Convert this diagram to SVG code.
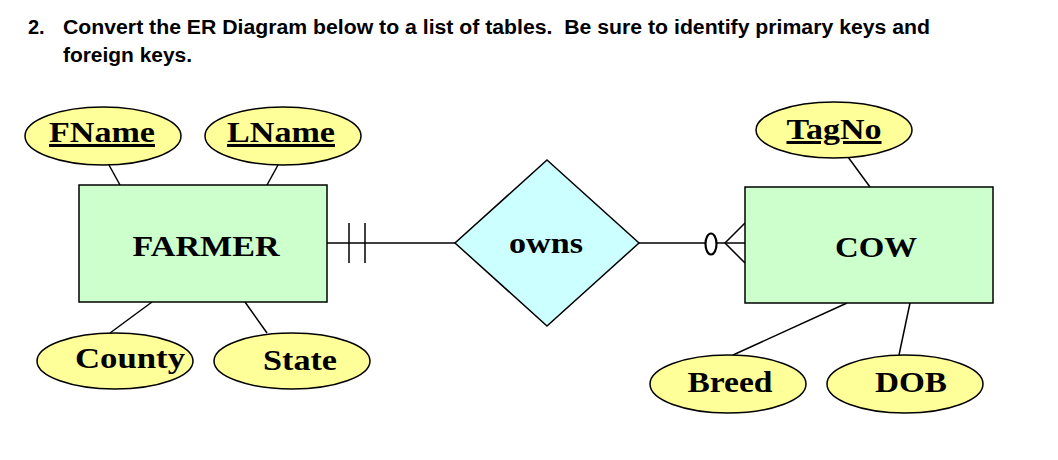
<svg xmlns="http://www.w3.org/2000/svg" width="1058" height="460" viewBox="0 0 1058 460">
<style>
.title{font-family:"Liberation Sans","DejaVu Sans",sans-serif;font-weight:bold;font-size:20px;fill:#000}
.attr{fill:#FFFF99;stroke:#000;stroke-width:1.5}
.ent{fill:#CCFFCC;stroke:#000;stroke-width:1.5}
.rel{fill:#CCFFFF;stroke:#000;stroke-width:1.5}
.lbl{font-family:"Liberation Serif","Times New Roman",serif;font-weight:bold;font-size:30px;fill:#000}
.key{text-decoration:underline}
.conn line,.conn path{stroke:#000;stroke-width:1.5;fill:none}
</style>
<rect width="1058" height="460" fill="#fff"/>
<g id="title">
<text class="title" x="28" y="34">2.</text>
<text class="title" x="63" y="34" textLength="867" lengthAdjust="spacingAndGlyphs" xml:space="preserve">Convert the ER Diagram below to a list of tables.  Be sure to identify primary keys and</text>
<text class="title" x="63" y="62" textLength="129" lengthAdjust="spacingAndGlyphs">foreign keys.</text>
</g>
<g class="conn" id="connectors">
<line x1="109" y1="165" x2="120" y2="185"/>
<line x1="278" y1="165" x2="267" y2="185"/>
<line x1="152" y1="302" x2="110" y2="333"/>
<line x1="245" y1="302" x2="267" y2="333"/>
<line x1="848" y1="157" x2="870" y2="187"/>
<line x1="847" y1="303" x2="733" y2="355"/>
<line x1="910" y1="303" x2="899" y2="355"/>
<line x1="327" y1="243" x2="455" y2="243"/>
<line x1="349" y1="223" x2="349" y2="263"/>
<line x1="365" y1="223" x2="365" y2="263"/>
<line x1="639" y1="243" x2="745" y2="243"/>
<ellipse cx="711" cy="244" rx="5.5" ry="10.5" fill="#fff" stroke="#000" stroke-width="2.2"/>
<path d="M745 223 L725 243 L745 263"/>
</g>
<g id="farmer">
<rect class="ent" x="79" y="185" width="248" height="117"/>
<text class="lbl" x="206" y="256" text-anchor="middle" textLength="147" lengthAdjust="spacingAndGlyphs">FARMER</text>
</g>
<g id="owns">
<polygon class="rel" points="547,160 639,243 547,326 455,243"/>
<text class="lbl" x="546" y="253" text-anchor="middle" textLength="74" lengthAdjust="spacingAndGlyphs">owns</text>
</g>
<g id="cow">
<rect class="ent" x="745" y="187" width="248" height="116"/>
<text class="lbl" x="876" y="257" text-anchor="middle" textLength="82" lengthAdjust="spacingAndGlyphs">COW</text>
</g>
<g id="fname">
<ellipse class="attr" cx="103" cy="136" rx="78" ry="29"/>
<text class="lbl key" x="102" y="142" text-anchor="middle" textLength="106" lengthAdjust="spacingAndGlyphs">FName</text>
</g>
<g id="lname">
<ellipse class="attr" cx="283" cy="136" rx="78" ry="29"/>
<text class="lbl key" x="281" y="142" text-anchor="middle" textLength="108" lengthAdjust="spacingAndGlyphs">LName</text>
</g>
<g id="tagno">
<ellipse class="attr" cx="834" cy="130" rx="78" ry="28"/>
<text class="lbl key" x="834" y="139" text-anchor="middle" textLength="95" lengthAdjust="spacingAndGlyphs">TagNo</text>
</g>
<g id="county">
<ellipse class="attr" cx="115" cy="361" rx="78" ry="28"/>
<text class="lbl" x="130" y="368" text-anchor="middle" textLength="110" lengthAdjust="spacingAndGlyphs">County</text>
</g>
<g id="state">
<ellipse class="attr" cx="292" cy="361" rx="78" ry="28"/>
<text class="lbl" x="300" y="370" text-anchor="middle" textLength="74" lengthAdjust="spacingAndGlyphs">State</text>
</g>
<g id="breed">
<ellipse class="attr" cx="728" cy="384" rx="78" ry="29"/>
<text class="lbl" x="730" y="392" text-anchor="middle" textLength="85" lengthAdjust="spacingAndGlyphs">Breed</text>
</g>
<g id="dob">
<ellipse class="attr" cx="905" cy="384" rx="78" ry="29"/>
<text class="lbl" x="911" y="392" text-anchor="middle" textLength="72" lengthAdjust="spacingAndGlyphs">DOB</text>
</g>
</svg>
